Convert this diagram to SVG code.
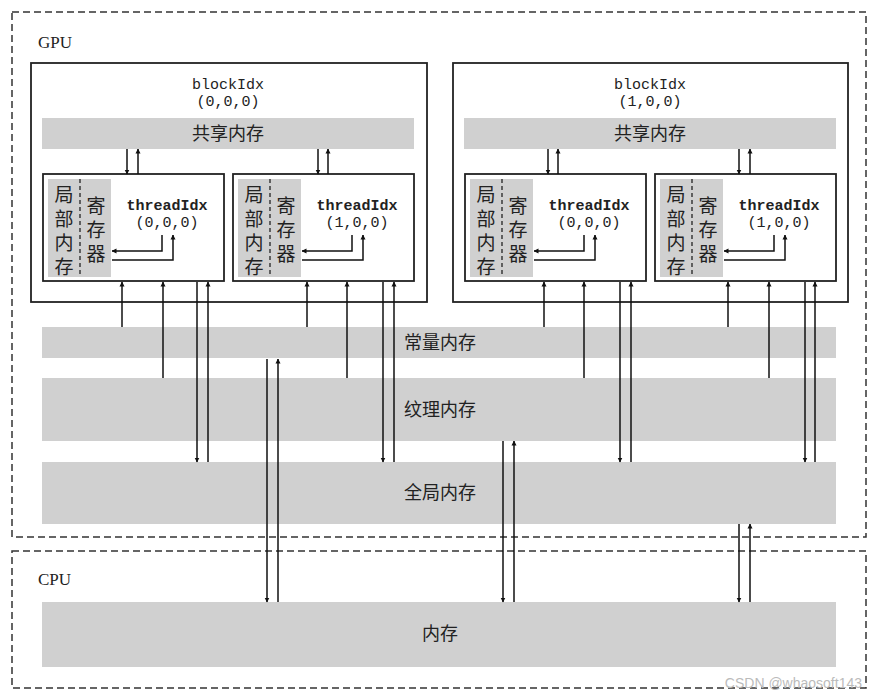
<svg xmlns="http://www.w3.org/2000/svg" width="878" height="698" viewBox="0 0 878 698">
<style>
.dash{fill:none;stroke:#333;stroke-width:1.5;stroke-dasharray:7 4}
.box{fill:#fff;stroke:#222;stroke-width:1.8}
.bar{fill:#d0d0d0}
.cn{font-family:"Noto Sans CJK SC",sans-serif;font-size:18px;fill:#222;text-anchor:middle}
.vt{font-family:"Noto Sans CJK SC",sans-serif;font-size:19px;fill:#222;text-anchor:middle}
.mono{font-family:"Liberation Mono",monospace;font-size:15px;fill:#222;text-anchor:middle}
.lbl{font-family:"Liberation Serif",serif;font-size:17px;fill:#222}
.ln{stroke:#111;stroke-width:1.5;fill:none}
.a{stroke:#111;stroke-width:1.5;fill:none;marker-end:url(#ah)}
</style>
<defs>
<marker id="ah" viewBox="0 0 10 10" refX="9" refY="5" markerWidth="5" markerHeight="7" orient="auto" markerUnits="userSpaceOnUse"><path d="M0,0L10,5L0,10z" fill="#111"/></marker>
<g id="thread">
<rect class="box" x="0" y="0" width="181" height="107"/>
<rect class="bar" x="5" y="5" width="63" height="98"/>
<line x1="37" y1="5" x2="37" y2="103" stroke="#222" stroke-width="1.3" stroke-dasharray="4 3"/>
<text class="vt" x="21" y="28">局</text><text class="vt" x="21" y="52">部</text><text class="vt" x="21" y="76">内</text><text class="vt" x="21" y="100">存</text>
<text class="vt" x="53" y="39">寄</text><text class="vt" x="53" y="63">存</text><text class="vt" x="53" y="87">器</text>
<path class="a" d="M119,61V77H69"/>
<path class="a" d="M69,86H130V61"/>
</g>
</defs>
<rect width="878" height="698" fill="#fff"/>
<g id="gpu"><rect class="dash" x="12" y="12" width="854" height="525"/><text class="lbl" x="38" y="48">GPU</text></g>
<g id="cpu"><rect class="dash" x="12" y="551" width="854" height="137"/><text class="lbl" x="38" y="585">CPU</text></g>
<g id="block0">
<rect class="box" x="31" y="63" width="396" height="239"/>
<text class="mono" x="228" y="89">blockIdx</text><text class="mono" x="228" y="106">(0,0,0)</text>
<rect class="bar" x="42" y="118" width="372" height="31"/><text class="cn" x="228" y="140">共享内存</text>
</g>
<g id="thread00"><use href="#thread" x="43" y="174"/><text class="mono" x="167" y="210" font-weight="bold">threadIdx</text><text class="mono" x="167" y="227">(0,0,0)</text></g>
<g id="thread01"><use href="#thread" x="233" y="174"/><text class="mono" x="357" y="210" font-weight="bold">threadIdx</text><text class="mono" x="357" y="227">(1,0,0)</text></g>
<g id="block1">
<rect class="box" x="453" y="63" width="395" height="239"/>
<text class="mono" x="650" y="89">blockIdx</text><text class="mono" x="650" y="106">(1,0,0)</text>
<rect class="bar" x="464" y="118" width="372" height="31"/><text class="cn" x="650" y="140">共享内存</text>
</g>
<g id="thread10"><use href="#thread" x="465" y="174"/><text class="mono" x="589" y="210" font-weight="bold">threadIdx</text><text class="mono" x="589" y="227">(0,0,0)</text></g>
<g id="thread11"><use href="#thread" x="655" y="174"/><text class="mono" x="779" y="210" font-weight="bold">threadIdx</text><text class="mono" x="779" y="227">(1,0,0)</text></g>
<g id="const"><rect class="bar" x="42" y="327" width="794" height="31"/><text class="cn" x="440" y="349">常量内存</text></g>
<g id="tex"><rect class="bar" x="42" y="378" width="794" height="63"/><text class="cn" x="440" y="416">纹理内存</text></g>
<g id="global"><rect class="bar" x="42" y="462" width="794" height="62"/><text class="cn" x="440" y="499">全局内存</text></g>
<g id="mem"><rect class="bar" x="42" y="602" width="794" height="65"/><text class="cn" x="440" y="640">内存</text></g>
<g id="connectors">
<path class="a" d="M127,149V174"/><path class="a" d="M138,174V149"/>
<path class="a" d="M318,149V174"/><path class="a" d="M328,174V149"/>
<path class="a" d="M548,149V174"/><path class="a" d="M558,174V149"/>
<path class="a" d="M739,149V174"/><path class="a" d="M750,174V149"/>
<path class="a" d="M122,327V282"/><path class="a" d="M163,378V282"/><path class="a" d="M197,282V462"/><path class="a" d="M208,462V282"/>
<path class="a" d="M307,327V282"/><path class="a" d="M347,378V282"/><path class="a" d="M383,282V462"/><path class="a" d="M394,462V282"/>
<path class="a" d="M544,327V282"/><path class="a" d="M584,378V282"/><path class="a" d="M620,282V462"/><path class="a" d="M631,462V282"/>
<path class="a" d="M728,327V282"/><path class="a" d="M769,378V282"/><path class="a" d="M805,282V462"/><path class="a" d="M815,462V282"/>
<path class="a" d="M267,359V602"/><path class="a" d="M278,602V359"/>
<path class="a" d="M503,441V602"/><path class="a" d="M514,602V441"/>
<path class="a" d="M739,524V602"/><path class="a" d="M750,602V524"/>
</g>
<text x="862" y="688" font-family="Liberation Sans,sans-serif" font-size="14" fill="#bbb" text-anchor="end">CSDN @whaosoft143</text>
</svg>
